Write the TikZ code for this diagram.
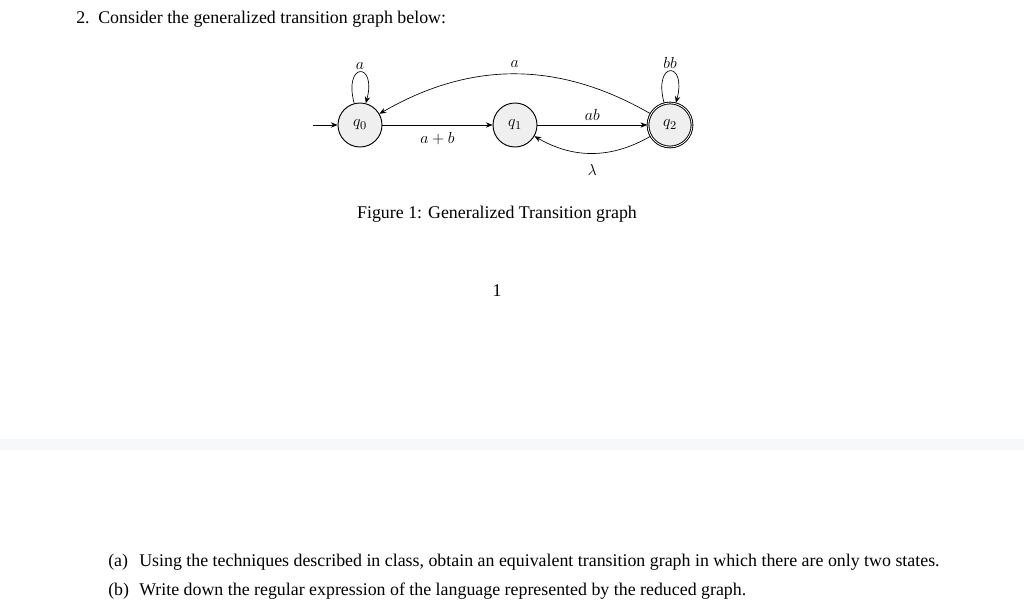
\documentclass[tikz,border=0pt]{standalone}
\usepackage{fontspec}
\setmainfont{Liberation Serif}
\usepackage{amsmath}
\usetikzlibrary{arrows.meta,automata}

\definecolor{statefill}{HTML}{EFEFEF}
\definecolor{bandgray}{HTML}{F7F8F9}

\begin{document}
\begin{tikzpicture}[
x=0.75pt,y=-0.75pt,
body/.style={font=\fontsize{13.4}{16}\selectfont,inner sep=0pt},
st/.style={state,fill=statefill,line width=0.7pt,minimum size=33pt,inner sep=0pt,font=\fontsize{13}{15}\selectfont},
lbl/.style={font=\fontsize{13}{15}\selectfont,inner sep=2pt},
edge/.style={-{Stealth[length=5pt,width=4pt]},line width=0.5pt},
every loop/.style={looseness=9.5}
]

\useasboundingbox (0,0) rectangle (1024,609);

% page text
\node[body,anchor=base west](num) at (76,24) {2.};
\node[body,anchor=base west](head) at (98,24) {Consider the generalized transition graph below:};

% the graph
\node[st](q0) at (360,125) {$q_0$};
\node[st](q1) at (515,125) {$q_1$};
\node[st,accepting,accepting/.style={double,double distance=1.2pt}](q2) at (670,125) {$q_2$};
\coordinate (init) at (313,125);

\draw[edge] (init) -- (q0);
\draw[edge] (q0) edge[loop above] node[lbl,above] {$a$} (q0);
\draw[edge] (q2) edge[loop above] node[lbl,above] {$bb$} (q2);
\draw[edge] (q0) -- node[lbl,below=3pt] {$a+b$} (q1);
\draw[edge] (q1) -- node[lbl,above=1pt] {$ab$} (q2);
\draw[edge] (q2) to[bend right=30] node[lbl,above=3pt] {$a$} (q0);
\draw[edge] (q2) to[bend left=30] node[lbl,below=6pt] {$\lambda$} (q1);

\node[body,anchor=base](caption) at (497,219) {Figure 1: Generalized Transition graph};
\node[body,anchor=base](page) at (497,297) {1};

% page break band
\fill[bandgray] (0,439) rectangle (1024,450);

\node[body,anchor=base west](ia) at (108,566) {(a)};
\node[body,anchor=base west](ta) at (139,566) {Using the techniques described in class, obtain an equivalent transition graph in which there are only two states.};
\node[body,anchor=base west](ib) at (108,595) {(b)};
\node[body,anchor=base west](tb) at (139,595) {Write down the regular expression of the language represented by the reduced graph.};

\end{tikzpicture}
\end{document}
